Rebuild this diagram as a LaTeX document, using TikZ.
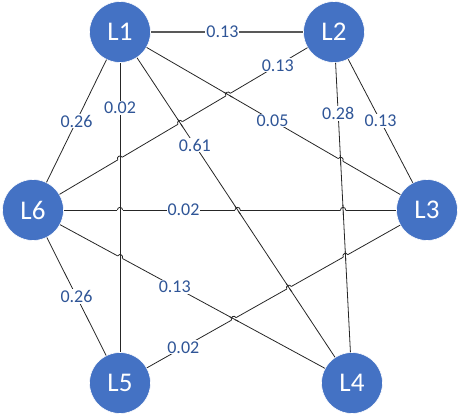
\documentclass[tikz,border=0pt]{standalone}
\usepackage{fontspec}
\setmainfont{Carlito}
\usetikzlibrary{calc}
\definecolor{nodeblue}{RGB}{68,114,196}
\definecolor{lblblue}{RGB}{47,85,151}
\newcommand{\hopover}[4]{%
  \coordinate (hP) at (intersection of #1--#2 and #3--#4);
  \coordinate (ha) at ($(hP)!2.6pt!(#1)$);
  \coordinate (hb) at ($(hP)!2.6pt!(#2)$);
  \draw[white, line width=2.6pt] (ha) -- (hb);
  \draw[edge] ($(hP)!5pt!(#3)$) -- ($(hP)!5pt!(#4)$);
  \draw[edge] (ha) .. controls ($(ha)!3.5pt!90:(hb)$) and ($(hb)!3.5pt!-90:(ha)$) .. (hb);
}
\begin{document}
\begin{tikzpicture}[x=1pt,y=-1pt,
  circ/.style={circle, fill=nodeblue, draw=white, line width=0.6pt, minimum size=61pt, inner sep=0pt, text=white, font=\fontsize{27}{27}\selectfont},
  edge/.style={draw=black!85, line width=0.8pt},
  lbl/.style={fill=white, text=lblblue, inner sep=1pt, font=\fontsize{18}{18}\selectfont}]
\useasboundingbox (0,0) rectangle (460,418);
\node[circ] (L1) at (120,32) {L1};
\node[circ] (L2) at (334,32) {L2};
\node[circ] (L3) at (427,210) {L3};
\node[circ] (L4) at (352,383) {L4};
\node[circ] (L5) at (120,383) {L5};
\node[circ] (L6) at (33,210) {L6};

\draw[edge, draw=black!65, line width=1.5pt] (L1) -- node[lbl, pos=0.47] {0.13} (L2);
\draw[edge] (L1) -- node[lbl, pos=0.5] {0.26} (L6);
\draw[edge] (L1) -- node[lbl, pos=0.155] {0.02} (L5);
\draw[edge] (L1) -- node[lbl, pos=0.292] {0.61} (L4);
\draw[edge] (L1) -- node[lbl, pos=0.496] {0.05} (L3);
\draw[edge] (L2) -- node[lbl, pos=0.12] {0.13} (L6);
\draw[edge] (L2) -- node[lbl, pos=0.175] {0.28} (L4);
\draw[edge] (L2) -- node[lbl, pos=0.5] {0.13} (L3);
\draw[edge] (L6) -- node[lbl, pos=0.36] {0.02} (L3);
\draw[edge] (L6) -- node[lbl, pos=0.5] {0.26} (L5);
\draw[edge] (L6) -- node[lbl, pos=0.433] {0.13} (L4);
\draw[edge] (L5) -- node[lbl, pos=0.144] {0.02} (L3);

\hopover{L6}{L2}{L1}{L5}
\hopover{L6}{L2}{L1}{L4}
\hopover{L6}{L2}{L1}{L3}
\hopover{L1}{L3}{L2}{L4}
\hopover{L6}{L3}{L1}{L5}
\hopover{L6}{L3}{L1}{L4}
\hopover{L6}{L3}{L2}{L4}
\hopover{L6}{L4}{L1}{L5}
\hopover{L5}{L3}{L2}{L4}
\hopover{L5}{L3}{L1}{L4}
\hopover{L5}{L3}{L6}{L4}
\end{tikzpicture}
\end{document}
